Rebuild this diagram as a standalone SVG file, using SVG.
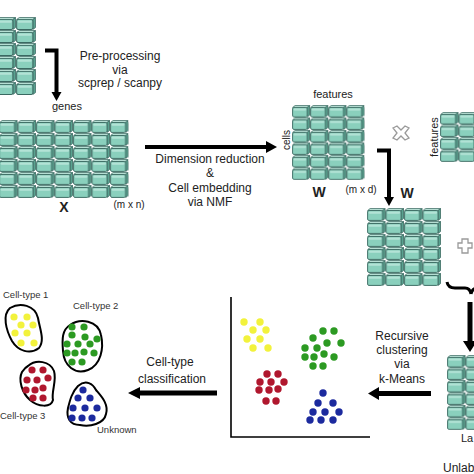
<svg xmlns="http://www.w3.org/2000/svg" width="474" height="474" viewBox="0 0 474 474">
<style>
.t{font-family:"Liberation Sans",Arial,sans-serif;fill:#222;}
.m{font-size:12px;text-anchor:middle;}
.s{font-size:9.5px;fill:#333;}
.b{font-size:14px;font-weight:bold;text-anchor:middle;}
.d{font-size:10px;text-anchor:middle;}
.ar{stroke:#000;fill:none;}
.blob{fill:#fff;stroke:#000;stroke-width:2;}
.y{fill:#f2f23c;}
.g{fill:#2c9a22;}
.r{fill:#b0172e;}
.u{fill:#1c2a9e;}
.op{fill:#fff;stroke:#9a9a9a;stroke-width:1.3;}
</style>
<defs>
<pattern id="cell" width="18.5" height="13" patternUnits="userSpaceOnUse">
<path d="M0.6,2.6 L3,0.6 H18 L15.6,2.6 Z" fill="#bfe8dc" stroke="#3a6961" stroke-width="0.8"/>
<path d="M15.6,2.6 L18,0.6 V10.6 L15.6,12.4 Z" fill="#5aa592" stroke="#3a6961" stroke-width="0.8"/>
<rect x="0.6" y="2.6" width="15" height="9.8" rx="1.3" fill="#8ad0bd" stroke="#3a6961" stroke-width="0.95"/>
<rect x="1.6" y="3.5" width="13" height="2.2" rx="1" fill="#b3e3d6"/>
</pattern>
</defs>

<g id="matrix-raw" transform="translate(-4,17) scale(1.08,1)"><rect width="37" height="78" fill="url(#cell)"/></g>

<g id="matrix-x" transform="translate(-1,120)"><rect width="129.5" height="78" fill="url(#cell)"/>
</g>
<g id="label-x">
<text class="t" x="67" y="110" style="font-size:11px;text-anchor:middle">genes</text>
<text class="t b" x="64" y="212">X</text>
<text class="t d" x="129" y="208">(m x n)</text>
</g>

<g id="matrix-w" transform="translate(292,105) scale(0.98,0.96)"><rect width="74" height="78" fill="url(#cell)"/></g>
<g id="label-w">
<text class="t" x="333" y="98" style="font-size:11px;text-anchor:middle">features</text>
<text class="t" transform="translate(290,140) rotate(-90)" style="font-size:10px;text-anchor:middle">cells</text>
<text class="t b" x="319" y="197">W</text>
<text class="t d" x="361" y="193">(m x d)</text>
</g>

<g id="times">
<path class="op" d="M393,128 L397,126 L401,130 L405,126 L409,128 L405,133 L409,138 L405,140 L401,136 L397,140 L393,138 L397,133 Z"/>
</g>

<g id="matrix-h" transform="translate(440,112) scale(1,0.96)"><rect width="37" height="52" fill="url(#cell)"/></g>
<text class="t" transform="translate(438,137) rotate(-90)" style="font-size:11px;text-anchor:middle">features</text>

<g id="matrix-w2" transform="translate(367,208)"><rect width="74" height="78" fill="url(#cell)"/></g>
<text class="t b" x="407" y="198">W</text>

<g id="plus">
<path class="op" d="M462,239 H468 V243 H472 V248 H468 V253 H462 V248 H458 V243 H462 Z"/>
</g>

<g id="matrix-labeled" transform="translate(447,355) scale(1,0.96)"><rect width="37" height="78" fill="url(#cell)"/></g>
<text class="t" x="461" y="442" style="font-size:11px">La</text>
<text class="t" x="443" y="472" style="font-size:12px">Unlab</text>

<g id="scatter">
<path d="M231,297 V437 H370" fill="none" stroke="#000" stroke-width="1.6"/>
<g class="y">
<circle cx="244" cy="322" r="3.7"/><circle cx="260" cy="322" r="3.7"/><circle cx="253" cy="330" r="3.7"/><circle cx="266" cy="330" r="3.7"/><circle cx="247" cy="339" r="3.7"/><circle cx="260" cy="339" r="3.7"/><circle cx="253" cy="348" r="3.7"/><circle cx="268" cy="348" r="3.7"/>
</g>
<g class="r">
<circle cx="267" cy="374" r="3.7"/><circle cx="278" cy="374" r="3.7"/><circle cx="260" cy="382" r="3.7"/><circle cx="271" cy="382" r="3.7"/><circle cx="284" cy="382" r="3.7"/><circle cx="259" cy="390" r="3.7"/><circle cx="269" cy="390" r="3.7"/><circle cx="278" cy="389" r="3.7"/><circle cx="266" cy="401" r="3.7"/><circle cx="276" cy="401" r="3.7"/>
</g>
<g class="g">
<circle cx="323" cy="331" r="3.7"/><circle cx="334" cy="331" r="3.7"/><circle cx="313" cy="338" r="3.7"/><circle cx="327" cy="343" r="3.7"/><circle cx="341" cy="343" r="3.7"/><circle cx="305" cy="348" r="3.7"/><circle cx="317" cy="348" r="3.7"/><circle cx="305" cy="357" r="3.7"/><circle cx="314" cy="357" r="3.7"/><circle cx="324" cy="354" r="3.7"/><circle cx="334" cy="357" r="3.7"/><circle cx="313" cy="366" r="3.7"/><circle cx="323" cy="366" r="3.7"/>
</g>
<g class="u">
<circle cx="323" cy="393" r="3.7"/><circle cx="318" cy="403" r="3.7"/><circle cx="333" cy="403" r="3.7"/><circle cx="313" cy="412" r="3.7"/><circle cx="325" cy="412" r="3.7"/><circle cx="339" cy="412" r="3.7"/><circle cx="310" cy="420" r="3.7"/><circle cx="321" cy="420" r="3.7"/><circle cx="333" cy="420" r="3.7"/>
</g>
</g>

<g id="cluster-1">
<path class="blob" d="M10,308 C20,302 35,305 38,318 C40,330 45,340 39,348 C30,355 18,351 12,341 C6,330 2,315 10,308 Z"/>
<g class="y"><circle cx="14" cy="317" r="3.6"/><circle cx="27" cy="317" r="3.6"/><circle cx="21" cy="325" r="3.6"/><circle cx="33" cy="325" r="3.6"/><circle cx="15" cy="333" r="3.6"/><circle cx="27" cy="333" r="3.6"/><circle cx="21" cy="343" r="3.6"/><circle cx="34" cy="343" r="3.6"/></g>
<text class="t s" x="3" y="298">Cell-type 1</text>
</g>
<g id="cluster-2">
<path class="blob" d="M70,325 C80,318 98,320 101,335 C104,348 101,365 88,370 C75,375 64,366 63,351 C62,339 62,330 70,325 Z"/>
<g class="g"><circle cx="72" cy="327" r="3.6"/><circle cx="84" cy="327" r="3.6"/><circle cx="72" cy="335" r="3.6"/><circle cx="85" cy="337" r="3.6"/><circle cx="97" cy="339" r="3.6"/><circle cx="67" cy="344" r="3.6"/><circle cx="78" cy="344" r="3.6"/><circle cx="90" cy="344" r="3.6"/><circle cx="67" cy="353" r="3.6"/><circle cx="75" cy="353" r="3.6"/><circle cx="84" cy="352" r="3.6"/><circle cx="94" cy="353" r="3.6"/><circle cx="72" cy="362" r="3.6"/><circle cx="82" cy="362" r="3.6"/></g>
<text class="t s" x="73" y="309">Cell-type 2</text>
</g>
<g id="cluster-3">
<path class="blob" d="M28,366 C36,359 50,361 54,371 C57,381 51,392 53,400 C51,408 38,407 30,400 C22,393 18,380 22,372 C24,369 26,367 28,366 Z"/>
<g class="r"><circle cx="32" cy="370" r="3.6"/><circle cx="43" cy="370" r="3.6"/><circle cx="27" cy="380" r="3.6"/><circle cx="37" cy="380" r="3.6"/><circle cx="48" cy="378" r="3.6"/><circle cx="26" cy="390" r="3.6"/><circle cx="35" cy="390" r="3.6"/><circle cx="43" cy="388" r="3.6"/><circle cx="33" cy="398" r="3.6"/><circle cx="43" cy="398" r="3.6"/></g>
<text class="t s" x="0" y="419">Cell-type 3</text>
</g>
<g id="cluster-unknown">
<path class="blob" d="M78,386 C86,379 93,384 96,390 C101,396 109,404 106,414 C104,424 90,427 80,425 C70,425 66,418 68,408 C70,400 72,392 78,386 Z"/>
<g class="u"><circle cx="83" cy="390" r="3.6"/><circle cx="78" cy="398" r="3.6"/><circle cx="90" cy="398" r="3.6"/><circle cx="73" cy="408" r="3.6"/><circle cx="85" cy="408" r="3.6"/><circle cx="97" cy="408" r="3.6"/><circle cx="72" cy="418" r="3.6"/><circle cx="82" cy="418" r="3.6"/><circle cx="92" cy="418" r="3.6"/></g>
<text class="t s" x="97" y="433">Unknown</text>
</g>

<g id="connectors">
<path class="ar" d="M45,50.5 H56.5 V93" stroke-width="4"/>
<polygon points="51.5,92 61.5,92 56.5,101"/>
<line class="ar" x1="145" y1="147" x2="268" y2="147" stroke-width="4"/>
<polygon points="266,141 277,147 266,153"/>
<path class="ar" d="M377,150.5 H389 V198" stroke-width="4"/>
<polygon points="384,197 394,197 389,206"/>
<path class="ar" d="M447,282 Q448,288 455,288 L465,288 Q470,288 471,294 M471,294 Q472,288 478,288" stroke-width="3"/>
<line class="ar" x1="470" y1="302" x2="470" y2="342" stroke-width="5"/>
<polygon points="463,341 477,341 470,352"/>
<line class="ar" x1="431" y1="393.5" x2="377" y2="393.5" stroke-width="5"/>
<polygon points="379,387 379,400 368,393.5"/>
<line class="ar" x1="217" y1="393" x2="138" y2="393" stroke-width="5"/>
<polygon points="140,387 140,399 128,393"/>
</g>

<g id="texts">
<text class="t m" x="120" y="60">Pre-processing</text>
<text class="t m" x="120" y="74">via</text>
<text class="t m" x="120" y="87">scprep / scanpy</text>
<text class="t m" x="210" y="163">Dimension reduction</text>
<text class="t m" x="210" y="177">&amp;</text>
<text class="t m" x="210" y="192">Cell embedding</text>
<text class="t m" x="210" y="206">via NMF</text>
<text class="t m" x="402" y="340">Recursive</text>
<text class="t m" x="402" y="354">clustering</text>
<text class="t m" x="402" y="368">via</text>
<text class="t m" x="402" y="383">k-Means</text>
<text class="t m" x="170" y="366">Cell-type</text>
<text class="t m" x="172" y="383">classification</text>
</g>
</svg>
